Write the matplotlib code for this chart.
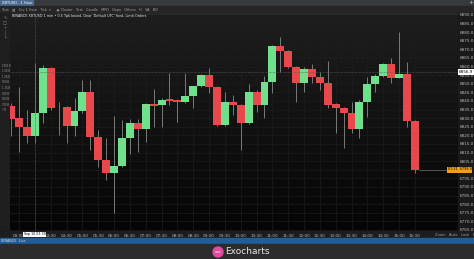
import numpy as np
import matplotlib
matplotlib.use("Agg")
import matplotlib.pyplot as plt
from matplotlib.patches import Rectangle, Circle

# ---------------------------------------
# Candle data (15 min bars, price)
# ---------------------------------------
opens = [6837.1, 6830.1, 6825.0, 6819.6, 6833.2, 6859.0, 6836.3, 6836.3, 6825.6, 6834.4,
         6845.1, 6819.2, 6805.7, 6798.0, 6802.4, 6818.3, 6827.0, 6823.7, 6838.3, 6837.7,
         6841.0, 6840.6, 6839.6, 6842.9, 6848.7, 6855.1, 6848.0, 6826.0, 6839.6, 6837.7,
         6827.0, 6845.4, 6837.7, 6851.2, 6872.2, 6869.1, 6860.0, 6850.3, 6858.6, 6854.1,
         6850.3, 6838.1, 6835.7, 6832.8, 6823.7, 6839.6, 6849.7, 6854.7, 6861.3, 6853.5,
         6855.5, 6828.4]
highs = [6838.8, 6848.3, 6834.8, 6862.1, 6860.9, 6859.8, 6839.6, 6837.1, 6841.7, 6852.2,
         6852.2, 6823.1, 6818.5, 6831.3, 6829.0, 6829.5, 6829.5, 6838.8, 6847.0, 6841.7,
         6856.3, 6841.0, 6856.3, 6844.0, 6855.7, 6859.4, 6848.7, 6845.4, 6843.5, 6838.3,
         6849.7, 6846.4, 6854.7, 6872.6, 6877.4, 6869.6, 6860.4, 6859.8, 6861.3, 6857.0,
         6863.3, 6838.8, 6836.5, 6839.6, 6840.6, 6854.1, 6855.7, 6862.1, 6864.8, 6879.9,
         6862.5, 6829.0]
lows = [6819.6, 6810.5, 6815.6, 6815.6, 6827.2, 6834.8, 6820.2, 6815.6, 6819.6, 6833.2,
        6811.5, 6801.8, 6794.1, 6774.9, 6801.6, 6809.2, 6810.5, 6816.3, 6824.7, 6824.9,
        6837.7, 6828.0, 6839.0, 6836.1, 6848.1, 6844.6, 6825.4, 6825.4, 6831.9, 6811.5,
        6826.6, 6833.6, 6829.9, 6844.5, 6857.0, 6859.2, 6839.6, 6845.4, 6850.3, 6846.4,
        6835.7, 6821.2, 6812.5, 6821.2, 6818.3, 6830.9, 6845.4, 6854.0, 6850.3, 6853.4,
        6825.0, 6798.0]
closes = [6829.7, 6824.7, 6819.6, 6833.2, 6859.0, 6835.7, 6836.5, 6825.6, 6834.4, 6845.1,
          6819.2, 6805.7, 6798.0, 6802.4, 6818.3, 6827.0, 6823.7, 6838.3, 6837.1, 6840.6,
          6840.0, 6839.6, 6842.9, 6848.7, 6855.1, 6848.0, 6826.0, 6839.6, 6837.7, 6827.0,
          6845.4, 6837.7, 6851.2, 6872.2, 6869.1, 6860.0, 6850.3, 6858.6, 6854.1, 6850.3,
          6837.7, 6835.7, 6832.8, 6823.7, 6839.6, 6849.7, 6854.7, 6861.3, 6853.5, 6855.5,
          6828.4, 6799.9]

time_labels = ["03:00", "03:30", "04:00", "04:30", "05:00", "05:30", "06:00", "06:30",
               "07:00", "07:30", "08:00", "08:30", "09:00", "09:30", "10:00", "10:30",
               "11:00", "11:30", "12:00", "12:30", "13:00", "13:30", "14:00", "14:30",
               "15:00", "15:30"]
price_ticks = [6890 - 5 * k for k in range(26)]
cross_price = 6856.9
cross_label = "Sep 10 03:30"

W, H = 474, 259
UP = "#6fe08c"
DOWN = "#e8474c"


def fx(x):
    return x / W


def fy(y):
    return 1 - y / H


fig = plt.figure(figsize=(W / 100, H / 100), dpi=100, facecolor="#2b2b2b")

# ---------------------------------------
# Window chrome (pixel coordinates)
# ---------------------------------------
bg = fig.add_axes([0, 0, 1, 1])
bg.set_xlim(0, W)
bg.set_ylim(H, 0)
bg.axis("off")
bg.add_patch(Rectangle((0, 0), W, 6, color="#37393d"))
bg.add_patch(Rectangle((0, 0), 33, 6, color="#4b6a8f"))
bg.add_patch(Rectangle((0, 6), W, 7, color="#262626"))
bg.add_patch(Rectangle((0, 13), 10, 218, color="#1f1f1f"))
bg.add_patch(Rectangle((458, 13), 16, 218, color="#1a1a1a"))
bg.add_patch(Rectangle((0, 231), W, 7, color="#1d1d1d"))
bg.add_patch(Rectangle((0, 238), W, 6, color="#1f5d9b"))
bg.add_patch(Rectangle((0, 244), W, 15, color="#2c2c2c"))
bg.add_patch(Circle((218, 252), 5, color="#e04aa0"))

# ---------------------------------------
# Chart
# ---------------------------------------
ax = fig.add_axes([fx(10), fy(231), fx(448), 216 / H])
ax.set_facecolor("#0b0b0b")
ax.set_xlim(-0.15, 56.45)
ax.set_ylim(6764.4, 6890.0)

grad = np.linspace(1, 0, 200).reshape(-1, 1)
ax.imshow(grad, extent=[-0.15, 56.45, 6764.4, 6890.0], aspect="auto",
          cmap=matplotlib.colors.LinearSegmentedColormap.from_list("bgc", ["#050505", "#1e1e1e"]),
          zorder=0)

x = np.arange(len(opens))
o = np.array(opens)
c = np.array(closes)
up = c >= o
colors = np.where(up, UP, DOWN)
body_lo = np.minimum(o, c)
body_h = np.maximum(np.abs(c - o), 0.4)

for p in price_ticks:
    ax.axhline(p, color="#1c1c1c", lw=0.5, zorder=1)
tick_pos = list(range(1, len(opens), 2))
for t in tick_pos:
    ax.axvline(t, color="#1c1c1c", lw=0.5, zorder=1)

ax.vlines(x, lows, highs, color="#8a8a8a", lw=0.6, zorder=2)
ax.bar(x, body_h, bottom=body_lo, width=1.0, color=colors, linewidth=0, zorder=3)

# crosshair
ax.axhline(cross_price, color="#5a5a5a", lw=0.5, ls=(0, (1, 1)), zorder=4)
ax.axvline(3, color="#5a5a5a", lw=0.5, ls=(0, (1, 1)), zorder=4)

# last price line
ax.hlines(closes[-1], len(opens) - 0.5, 56.45, color="#6a6a6a", lw=0.5, zorder=4)

ax.yaxis.tick_right()
ax.set_yticks(price_ticks)
# the 6800 label sits under the yellow last-price box
ax.set_yticklabels(["" if p == 6800 else f"{p:.1f}" for p in price_ticks])
ax.tick_params(axis="y", length=0, pad=1.5, labelsize=3, labelcolor="#bdbdbd")
ax.set_xticks(tick_pos)
ax.set_xticklabels(["" if i == 1 else t for i, t in enumerate(time_labels)])
ax.tick_params(axis="x", length=0, pad=2.2, labelsize=3, labelcolor="#b5b5b5")
for s in ax.spines.values():
    s.set_visible(False)

# ---------------------------------------
# Texts
# ---------------------------------------
fig.text(fx(2), fy(3), "XBTUSD - 1 Hour", fontsize=2.6, color="white", va="center")
fig.text(fx(471), fy(3), "+", fontsize=4, color="#cccccc", va="center", ha="center")
fig.text(fx(2), fy(9.5),
         "Text   \u25a4   Crv 1 Hour   Tick  \u25be     \u25c9 Cluster   Text   Candle   MPD   Depo   Others   H   VA   BO",
         fontsize=2.4, color="#a8a8a8", va="center")
fig.text(fx(12), fy(15.5),
         "BINANCE XBTUSD 1 min \u2022 0.5 Tpb based, Dear 'Default UTC' feed, Limit Orders",
         fontsize=2.4, color="#e8e8e8", va="center")
for i, g in enumerate(["\u270e", "\u25a1", "+", "\u2502", "\u2514"]):
    fig.text(fx(5), fy(18 + i * 5), g, fontsize=3, color="#8a8a8a", va="center", ha="center")
for i, s in enumerate(["1000 B", "1.5K B", "1.2K B", "900 B", "1.1K B", "800 B", "950 B", "700 B", "7 B"]):
    fig.text(fx(1.5), fy(66 + i * 5.5), s, fontsize=1.8, color="#9a9a9a", va="center")

fig.text(fx(34.8), fy(234.5), cross_label, fontsize=2.3, color="black", va="center", ha="center",
         bbox=dict(boxstyle="square,pad=0.15", fc="white", ec="none"))
fig.text(fx(466), fy(72), f"{cross_price:.1f}", fontsize=3, color="black", va="center", ha="center",
         bbox=dict(boxstyle="square,pad=0.3", fc="white", ec="none"))
fig.text(fx(459.5), fy(169.5), f"07:21  {closes[-1]:.1f}", fontsize=2.4, color="black",
         va="center", ha="center",
         bbox=dict(boxstyle="square,pad=0.3", fc="#e8a317", ec="none"))
fig.text(fx(455), fy(234.5), "Zoom   Auto   Lock   \u2699", fontsize=2.6, color="#a0a0a0",
         va="center", ha="center")
fig.text(fx(1), fy(241), "BINANCE  Live", fontsize=2.4, color="#dddddd", va="center")
fig.text(fx(218), fy(252), "exo", fontsize=2.6, color="white", va="center", ha="center")
fig.text(fx(225), fy(252), "Exocharts", fontsize=6.5, color="#e6e6e6", va="center")

fig.savefig("out.png", dpi=100, facecolor=fig.get_facecolor())
